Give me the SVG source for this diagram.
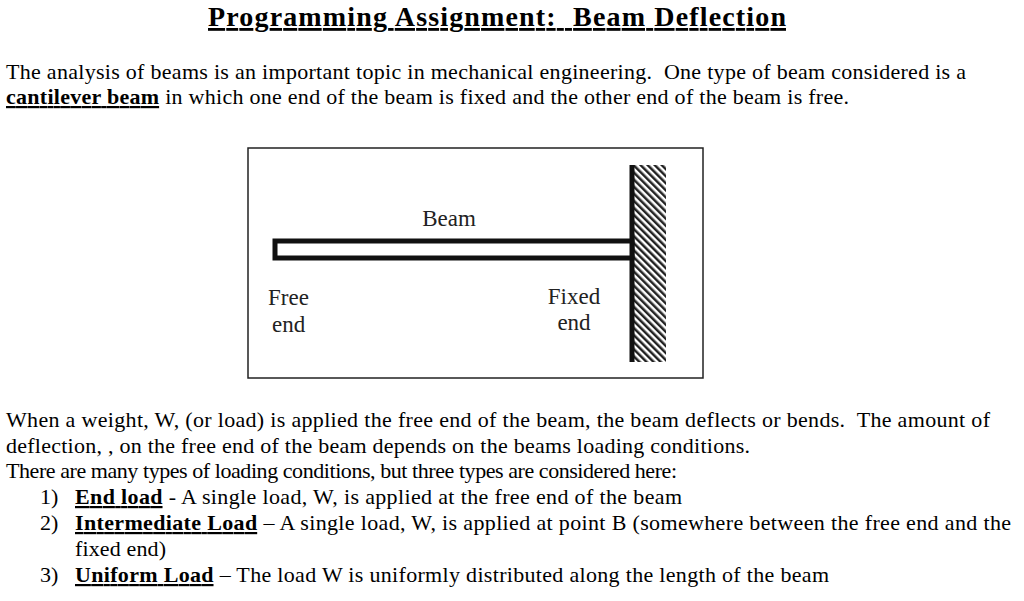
<svg xmlns="http://www.w3.org/2000/svg" width="1024" height="601" viewBox="0 0 1024 601">
<style>
text{font-family:"Liberation Serif","Times New Roman",serif;fill:#000}
.b{font-size:22px}
.u{font-weight:bold;text-decoration:underline}
.d{font-size:23px;fill:#222}
</style>
<defs>
<pattern id="h" width="5" height="5" patternUnits="userSpaceOnUse" patternTransform="rotate(-45)">
<rect width="5" height="5" fill="#fff"/><rect width="2.5" height="5" fill="#222"/>
</pattern>
</defs>
<rect width="1024" height="601" fill="#fff"/>
<text x="208" y="26" font-size="28" class="u" textLength="578" xml:space="preserve">Programming Assignment:  Beam Deflection</text>
<text class="b" x="6" y="79" textLength="960" xml:space="preserve">The analysis of beams is an important topic in mechanical engineering.  One type of beam considered is a</text>
<text class="b" x="6" y="104" textLength="843"><tspan class="u">cantilever beam</tspan> in which one end of the beam is fixed and the other end of the beam is free.</text>
<g id="figure">
<rect x="248" y="148" width="455" height="230" fill="none" stroke="#222" stroke-width="1.5"/>
<g id="wall"><rect x="632" y="165" width="34" height="197" fill="url(#h)"/><line x1="632" y1="165" x2="632" y2="362" stroke="#111" stroke-width="5"/></g>
<g id="beam"><rect x="275" y="241" width="357" height="17" fill="#fff" stroke="#111" stroke-width="5"/></g>
<text class="d" x="449" y="226" text-anchor="middle">Beam</text>
<text class="d" x="268" y="305">Free</text>
<text class="d" x="272" y="332">end</text>
<text class="d" x="574" y="304" text-anchor="middle">Fixed</text>
<text class="d" x="574" y="330" text-anchor="middle">end</text>
</g>
<text class="b" x="6" y="427" textLength="984" xml:space="preserve">When a weight, W, (or load) is applied the free end of the beam, the beam deflects or bends.  The amount of</text>
<text class="b" x="6" y="453" textLength="744">deflection, , on the free end of the beam depends on the beams loading conditions.</text>
<text class="b" x="6" y="478" textLength="671">There are many types of loading conditions, but three types are considered here:</text>
<text class="b" x="40" y="504">1)</text><text class="b" x="75" y="504" textLength="607"><tspan class="u">End load</tspan> - A single load, W, is applied at the free end of the beam</text>
<text class="b" x="40" y="530">2)</text><text class="b" x="75" y="530" textLength="936"><tspan class="u">Intermediate Load</tspan> – A single load, W, is applied at point B (somewhere between the free end and the</text>
<text class="b" x="75" y="556" textLength="91">fixed end)</text>
<text class="b" x="40" y="582">3)</text><text class="b" x="75" y="582" textLength="754"><tspan class="u">Uniform Load</tspan> – The load W is uniformly distributed along the length of the beam</text>
</svg>
